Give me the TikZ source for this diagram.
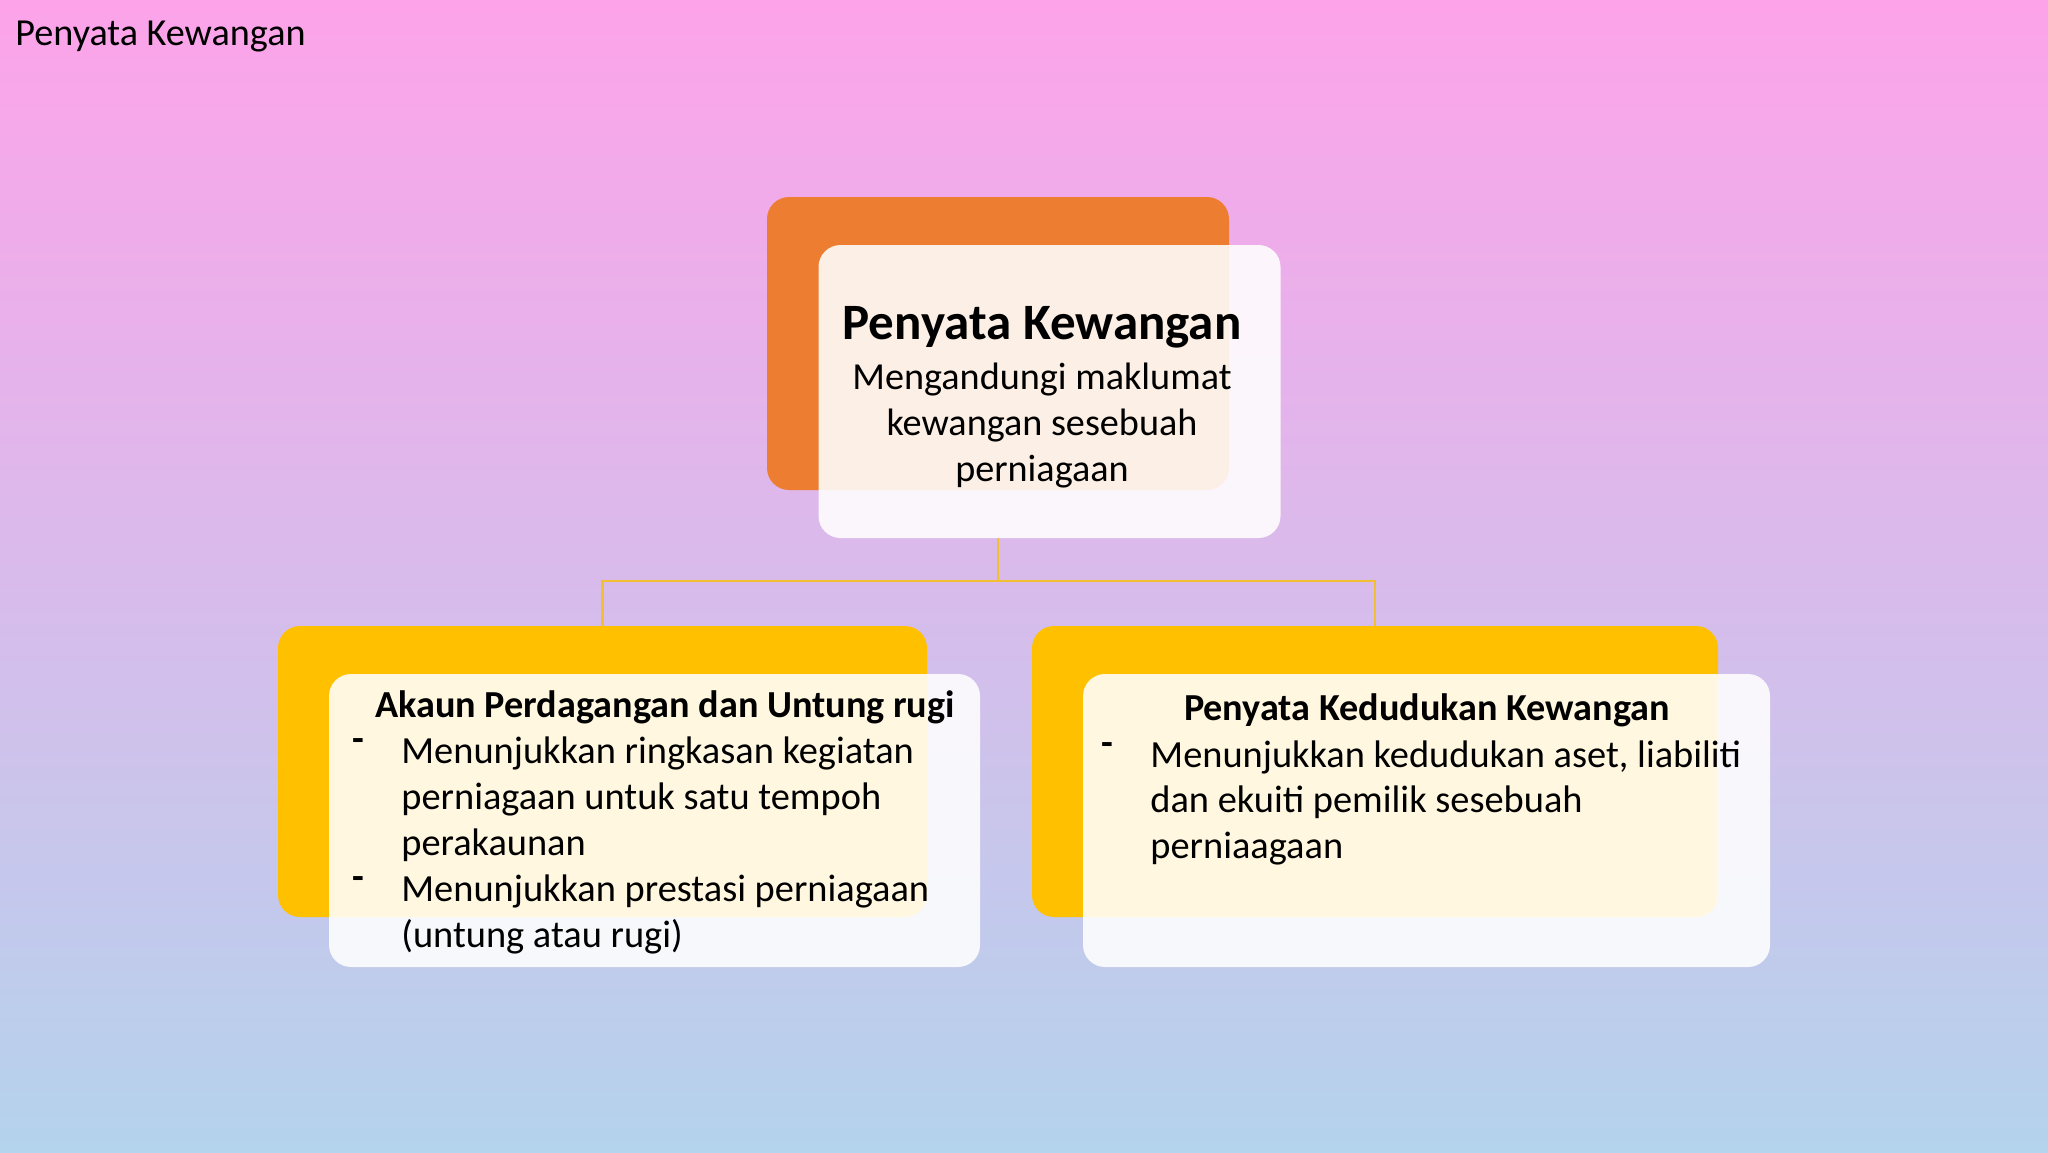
\documentclass[tikz,border=0pt]{standalone}
\usepackage{fontspec}
\setmainfont{Carlito}
\definecolor{bgtop}{RGB}{253,163,234}
\definecolor{bgbot}{RGB}{180,211,236}
\definecolor{orangeA}{RGB}{237,125,49}
\definecolor{yellowA}{RGB}{255,192,0}
\definecolor{linkcol}{RGB}{242,190,50}
\newcommand{\dashitem}{\makebox[23pt][l]{\hspace*{-1.5pt}\raisebox{6pt}{\bfseries -}}}
\newcommand{\indentitem}{\hspace*{23pt}}
\tikzset{
  backbox/.style={rounded corners=11pt, inner sep=0pt, draw=none},
  frontbox/.style={rounded corners=11pt, inner sep=0pt, draw=none, fill=white, fill opacity=0.88},
  linkline/.style={draw=linkcol, line width=1.3pt},
  txt/.style={inner sep=0pt, text=black},
}
\begin{document}
\begin{tikzpicture}[x=0.5pt,y=-0.5pt]
\useasboundingbox (0,0) rectangle (2048,1152);
\shade[top color=bgtop, bottom color=bgbot] (0,0) rectangle (2048,1152);

% page title
\node[txt, anchor=base west, font=\fontsize{19.1}{23}\selectfont] (pagetitle) at (15,45) {Penyata Kewangan};

% boxes
\node[backbox, fill=orangeA, minimum width=231pt, minimum height=146.5pt] (topback) at (998,343.5) {};
\node[backbox, fill=yellowA, minimum width=324.5pt, minimum height=145.5pt] (leftback) at (602.5,771.5) {};
\node[backbox, fill=yellowA, minimum width=343pt, minimum height=145.5pt] (rightback) at (1375,771.5) {};

\node[frontbox, minimum width=231pt, minimum height=146.5pt] (topfront) at (1049.5,391.5) {};
\node[frontbox, minimum width=325.5pt, minimum height=146.5pt] (leftfront) at (654.5,820.5) {};
\node[frontbox, minimum width=343.5pt, minimum height=146.5pt] (rightfront) at (1426.5,820.5) {};

% connectors
\coordinate (junction) at (998,581);
\draw[linkline] (topback.south |- topfront.south) -- (junction);
\draw[linkline] (junction) -| (leftback.north);
\draw[linkline] (junction) -| (rightback.north);

% top text
\node[txt, anchor=base, font=\fontsize{25.5}{30}\selectfont\bfseries] (toptitle) at (1042,339) {Penyata Kewangan};
\node[txt, anchor=base, font=\fontsize{19.1}{23}\selectfont] (topbody) at (1042,389)
  {\begin{tabular}[t]{@{}c@{}}Mengandungi maklumat\\ kewangan sesebuah\\ perniagaan\end{tabular}};

% left text
\node[txt, anchor=base west, font=\fontsize{19.1}{23}\selectfont\bfseries] (lefttitle) at (375,717) {Akaun Perdagangan dan Untung rugi};
\node[txt, anchor=base west, font=\fontsize{19.2}{23.1}\selectfont] (leftbody) at (355,763)
  {\begin{tabular}[t]{@{}l@{}}\dashitem Menunjukkan ringkasan kegiatan\\
   \indentitem perniagaan untuk satu tempoh\\
   \indentitem perakaunan\\
   \dashitem Menunjukkan prestasi perniagaan\\
   \indentitem (untung atau rugi)\end{tabular}};

% right text
\node[txt, anchor=base, font=\fontsize{19.1}{23}\selectfont\bfseries] (righttitle) at (1427,720) {Penyata Kedudukan Kewangan};
\node[txt, anchor=base west, font=\fontsize{19.2}{22.9}\selectfont] (rightbody) at (1104,767)
  {\begin{tabular}[t]{@{}l@{}}\dashitem Menunjukkan kedudukan aset, liabiliti\\
   \indentitem dan ekuiti pemilik sesebuah\\
   \indentitem perniaagaan\end{tabular}};
\end{tikzpicture}
\end{document}
